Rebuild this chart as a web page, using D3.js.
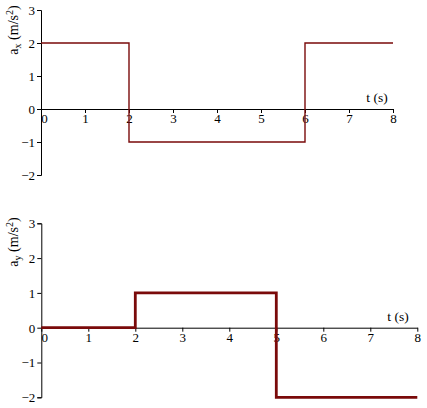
<!DOCTYPE html>
<html>
<head>
<meta charset="utf-8">
<script src="https://cdn.jsdelivr.net/npm/d3@7"></script>
<style>
  body { margin: 0; background: #fff; }
  svg text { font-family: "Liberation Serif", "Times New Roman", "DejaVu Serif", serif; fill: #000; }
</style>
</head>
<body>
<svg id="chart" width="427" height="408"></svg>
<script>
// step values: [t, a] points, each holds until the next t
var tTicks = [0, 1, 2, 3, 4, 5, 6, 7, 8];
var aTicks = [-2, -1, 0, 1, 2, 3];
var axSteps = [[0, 2], [2, -1], [6, 2], [8, 2]];
var aySteps = [[0, 0], [2, 1], [5, -2], [8, -2]];

var serif = "'Liberation Serif', 'Times New Roman', 'DejaVu Serif', serif";
var svg = d3.select("#chart");

function drawPanel(opts) {
  var x = d3.scaleLinear().domain([0, 8]).range([opts.x0, opts.x1]);
  var y = d3.scaleLinear().domain([-2, 3]).range([opts.y0, opts.y1]);
  var g = svg.append("g");

  // y axis
  var yAxis = d3.axisLeft(y).tickValues(aTicks).tickSize(4).tickFormat(function(d) {
    return d < 0 ? "\u2212" + Math.abs(d) : d;
  });
  var ya = g.append("g").attr("transform", "translate(" + x(0) + ",0)").call(yAxis)
    .attr("font-family", serif).attr("font-size", 13);
  ya.select(".domain").attr("stroke", "#000");
  ya.selectAll(".tick line").attr("stroke", "#000");
  ya.selectAll("text").attr("dy", "0.34em").attr("x", -6);

  // x axis at a = 0
  var xAxis = d3.axisBottom(x).tickValues(tTicks).tickSize(4).tickSizeOuter(0);
  var xa = g.append("g").attr("transform", "translate(0," + y(0) + ")").call(xAxis)
    .attr("font-family", serif).attr("font-size", 13);
  xa.select(".domain").attr("stroke", "#000");
  xa.selectAll(".tick line").attr("stroke", "#000");
  xa.selectAll("text").attr("y", 5)
    .attr("dx", function(d) { return d === 0 ? 3 : 0; });

  // step line
  var line = d3.line()
    .x(function(d) { return x(d[0]); })
    .y(function(d) { return y(d[1]); })
    .curve(d3.curveStepAfter);
  g.append("path")
    .datum(opts.data)
    .attr("fill", "none")
    .attr("stroke", "#7a0a0a")
    .attr("stroke-width", opts.width)
    .attr("d", line);

  // labels
  var yl = g.append("text")
    .attr("transform", "translate(" + opts.ylabX + "," + opts.ylabY + ") rotate(-90)")
    .attr("text-anchor", "middle")
    .attr("font-family", serif)
    .attr("font-size", 14);
  yl.append("tspan").text("a");
  yl.append("tspan").attr("dy", 3).attr("font-size", 10).text(opts.sub);
  yl.append("tspan").attr("dy", -3).text(" (m/s");
  yl.append("tspan").attr("dy", -5).attr("font-size", 10).text("2");
  yl.append("tspan").attr("dy", 5).text(")");

  g.append("text")
    .attr("x", opts.tX)
    .attr("y", y(0) - 7)
    .attr("text-anchor", "middle")
    .attr("font-family", serif)
    .attr("font-size", 13.5)
    .text("t (s)");
}

drawPanel({ x0: 41, x1: 393, y0: 175, y1: 10, data: axSteps, width: 1.4,
  sub: "x", ylabX: 18, ylabY: 30, tX: 377 });
drawPanel({ x0: 41.3, x1: 417.3, y0: 397.3, y1: 223.3, data: aySteps, width: 2.8,
  sub: "y", ylabX: 18, ylabY: 242, tX: 398 });
</script>
</body>
</html>
